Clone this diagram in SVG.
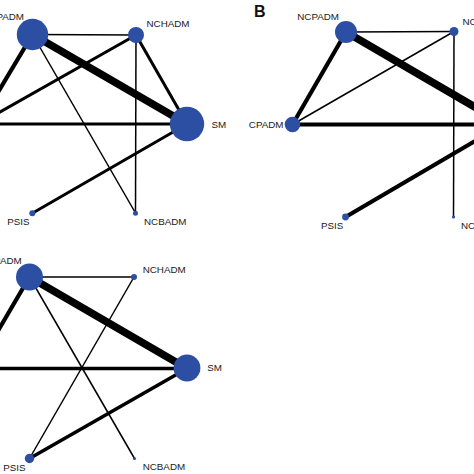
<svg xmlns="http://www.w3.org/2000/svg" width="474" height="474" viewBox="0 0 474 474">
<style>
.n{fill:#2c4ea3}
.t{font-family:"Liberation Sans",Arial,sans-serif;font-size:9.8px;fill:#1a1a1a}
.e{text-anchor:end}
.p{font-family:"Liberation Sans",Arial,sans-serif;font-size:16px;font-weight:bold;fill:#111}
#edges line{stroke:#000;stroke-linecap:butt}
.w1{stroke-width:1.5}
.w3{stroke-width:3}
.w35{stroke-width:3.5}
.w4{stroke-width:4.2}
.w8{stroke-width:7.8}
</style>
<rect width="474" height="474" fill="#fff"/>
<g id="edges">
<!-- Panel A -->
<line class="w4" x1="32.5" y1="34.5" x2="-21" y2="124"/>
<line class="w3" x1="136" y1="35" x2="-21" y2="124"/>
<line class="w3" x1="-21" y1="124" x2="187" y2="124"/>
<line class="w1" x1="32.5" y1="34.5" x2="136" y2="35"/>
<line class="w8" x1="32.5" y1="34.5" x2="187" y2="124"/>
<line class="w1" x1="32.5" y1="34.5" x2="135.5" y2="213"/>
<line class="w3" x1="136" y1="35" x2="187" y2="124"/>
<line class="w1" x1="136" y1="35" x2="135.5" y2="213"/>
<line class="w3" x1="32.3" y1="213.3" x2="187" y2="124"/>
<!-- Panel B -->
<line class="w1" x1="346" y1="32" x2="454" y2="31.5"/>
<line class="w8" x1="346" y1="32" x2="504" y2="124"/>
<line class="w4" x1="346" y1="32" x2="292.5" y2="124.5"/>
<line class="w1" x1="292.5" y1="124.5" x2="454" y2="31.5"/>
<line class="w4" x1="292.5" y1="124.5" x2="504" y2="124.5"/>
<line class="w1" x1="454" y1="31.5" x2="453.5" y2="217"/>
<line class="w4" x1="345.5" y1="217" x2="504" y2="124"/>
<!-- Panel C -->
<line class="w4" x1="29.5" y1="277" x2="-24" y2="368.5"/>
<line class="w35" x1="-24" y1="368.5" x2="187" y2="368.5"/>
<line class="w1" x1="29.5" y1="277" x2="134" y2="277"/>
<line class="w8" x1="29.5" y1="277" x2="187" y2="368.5"/>
<line class="w1" x1="29.5" y1="277" x2="134.5" y2="458.5"/>
<line class="w1" x1="134" y1="277" x2="29.5" y2="458.5"/>
<line class="w35" x1="29.5" y1="458.5" x2="187" y2="368.5"/>
</g>
<g id="A-NCPADM"><circle class="n" cx="32.5" cy="34.5" r="15.7"/><text class="t e" x="24" y="19.5">NCPADM</text></g>
<g id="A-NCHADM"><circle class="n" cx="136" cy="35" r="8"/><text class="t" x="146.5" y="26.5">NCHADM</text></g>
<g id="A-SM"><circle class="n" cx="187" cy="124" r="17.2"/><text class="t" x="211.5" y="127.7">SM</text></g>
<g id="A-PSIS"><circle class="n" cx="32.3" cy="213.3" r="3"/><text class="t e" x="29.5" y="225">PSIS</text></g>
<g id="A-NCBADM"><circle class="n" cx="135.5" cy="213.3" r="2.5"/><text class="t" x="144" y="225">NCBADM</text></g>
<g id="B-label"><text class="p" x="254" y="16.7">B</text></g>
<g id="B-NCPADM"><circle class="n" cx="346" cy="32" r="11"/><text class="t e" x="339" y="20">NCPADM</text></g>
<g id="B-NCHADM"><circle class="n" cx="454" cy="31.5" r="4.5"/><text class="t" x="462.5" y="25">NCHADM</text></g>
<g id="B-CPADM"><circle class="n" cx="292.5" cy="124.5" r="7.8"/><text class="t e" x="283.5" y="127.8">CPADM</text></g>
<g id="B-PSIS"><circle class="n" cx="345.5" cy="217" r="3.4"/><text class="t e" x="343.3" y="229">PSIS</text></g>
<g id="B-NCBADM"><circle class="n" cx="453.5" cy="217" r="1.6"/><text class="t" x="461" y="229">NCBADM</text></g>
<g id="C-NCPADM"><circle class="n" cx="29.5" cy="277" r="13.5"/><text class="t e" x="21.7" y="263.5">NCPADM</text></g>
<g id="C-NCHADM"><circle class="n" cx="134" cy="277" r="3"/><text class="t" x="142.7" y="273">NCHADM</text></g>
<g id="C-SM"><circle class="n" cx="187" cy="368" r="13.4"/><text class="t" x="207.3" y="371.3">SM</text></g>
<g id="C-PSIS"><circle class="n" cx="29.5" cy="458.5" r="4.7"/><text class="t e" x="25.5" y="471">PSIS</text></g>
<g id="C-NCBADM"><circle class="n" cx="134.5" cy="458.5" r="1.6"/><text class="t" x="142.7" y="469.5">NCBADM</text></g>
</svg>
